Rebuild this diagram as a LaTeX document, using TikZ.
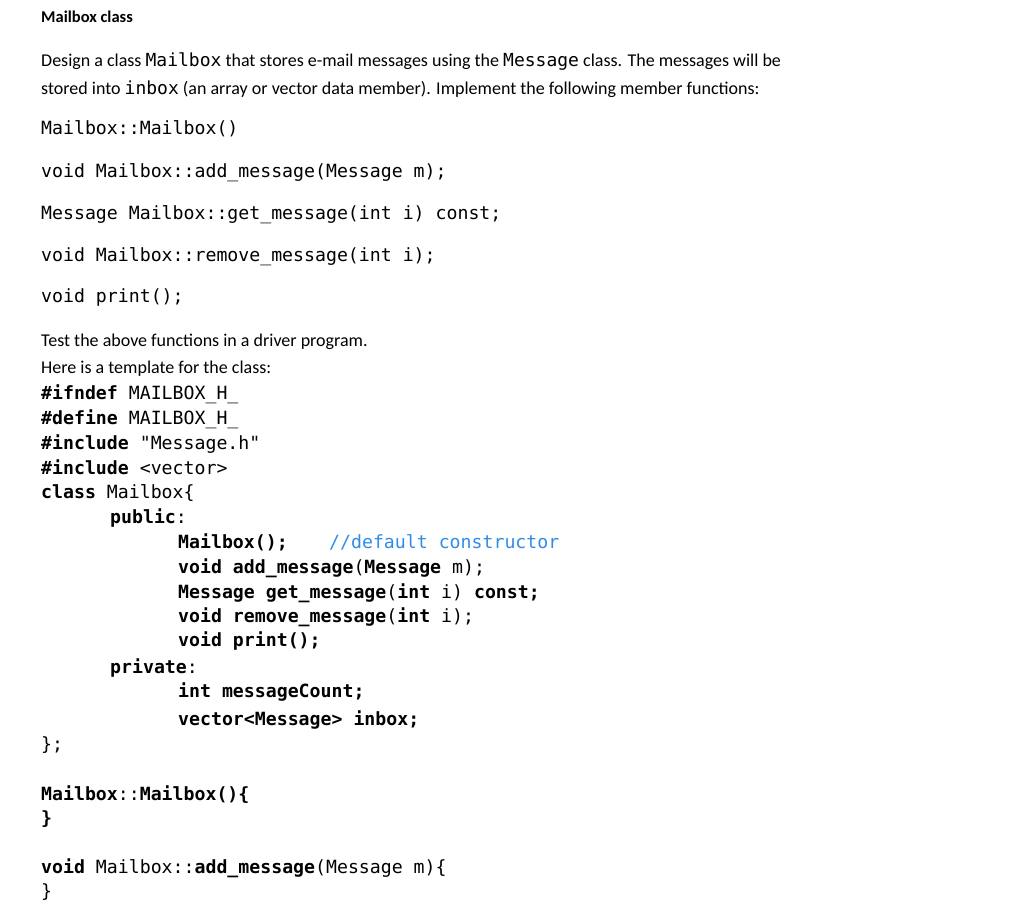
\documentclass[tikz,border=0pt]{standalone}
\usepackage{fontspec}
\setmainfont{Carlito}
\setmonofont{DejaVu Sans Mono}[Scale=1.0]
\definecolor{cmt}{RGB}{50,140,230}
\newcommand{\mb}[1]{{\bfseries #1}}
\begin{document}
\begin{tikzpicture}[x=1pt,y=1pt,
  body/.style={anchor=base west,inner sep=0pt,font=\fontsize{18}{22}\selectfont},
  code/.style={anchor=base west,inner sep=0pt,font=\fontsize{18.2}{22}\ttfamily}]
\useasboundingbox (0,0) rectangle (1024,-904);
\node[body,font=\fontsize{16.5}{20}\selectfont\bfseries] (t) at (41,-23) {Mailbox class};
\node[body] (l1) at (41,-67) {Design a class {\ttfamily Mailbox} that stores e-mail messages using the {\ttfamily Message} class. The messages will be};
\node[body] (l2) at (41,-95) {stored into {\ttfamily inbox} (an array or vector data member). Implement the following member functions:};
\node[code] (f1) at (41,-135) {Mailbox::Mailbox()};
\node[code] (f2) at (41,-177) {void Mailbox::add\_message(Message m);};
\node[code] (f3) at (41,-219) {Message Mailbox::get\_message(int i) const;};
\node[code] (f4) at (41,-261) {void Mailbox::remove\_message(int i);};
\node[code] (f5) at (41,-302) {void print();};
\node[body] (l3) at (41,-346) {Test the above functions in a driver program.};
\node[body] (l4) at (41,-373) {Here is a template for the class:};
\node[code] (c1) at (41,-399) {\mb{\#ifndef} MAILBOX\_H\_};
\node[code] (c2) at (41,-424) {\mb{\#define} MAILBOX\_H\_};
\node[code] (c3) at (41,-449) {\mb{\#include} "Message.h"};
\node[code] (c4) at (41,-474) {\mb{\#include} <vector>};
\node[code] (c5) at (41,-498) {\mb{class} Mailbox\{};
\node[code] (c6) at (110,-523) {\mb{public}:};
\node[code] (c7) at (178,-548) {\mb{Mailbox();}};
\node[code,text=cmt] (c7b) at (329,-548) {//default constructor};
\node[code] (c8) at (178,-573) {\mb{void add\_message}(\mb{Message} m);};
\node[code] (c9) at (178,-598) {\mb{Message get\_message}(\mb{int} i) \mb{const;}};
\node[code] (c10) at (178,-622) {\mb{void remove\_message}(\mb{int} i);};
\node[code] (c11) at (178,-646) {\mb{void print();}};
\node[code] (c12) at (110,-673) {\mb{private}:};
\node[code] (c13) at (178,-697) {\mb{int messageCount;}};
\node[code] (c14) at (178,-725) {\mb{vector<Message> inbox;}};
\node[code] (c15) at (41,-750) {\};};
\node[code] (c16) at (41,-800) {\mb{Mailbox}::\mb{Mailbox()\{}};
\node[code] (c17) at (41,-824) {\mb{\}}};
\node[code] (c18) at (41,-873) {\mb{void} Mailbox::\mb{add\_message}(Message m)\{};
\node[code] (c19) at (41,-897) {\}};
\end{tikzpicture}
\end{document}
